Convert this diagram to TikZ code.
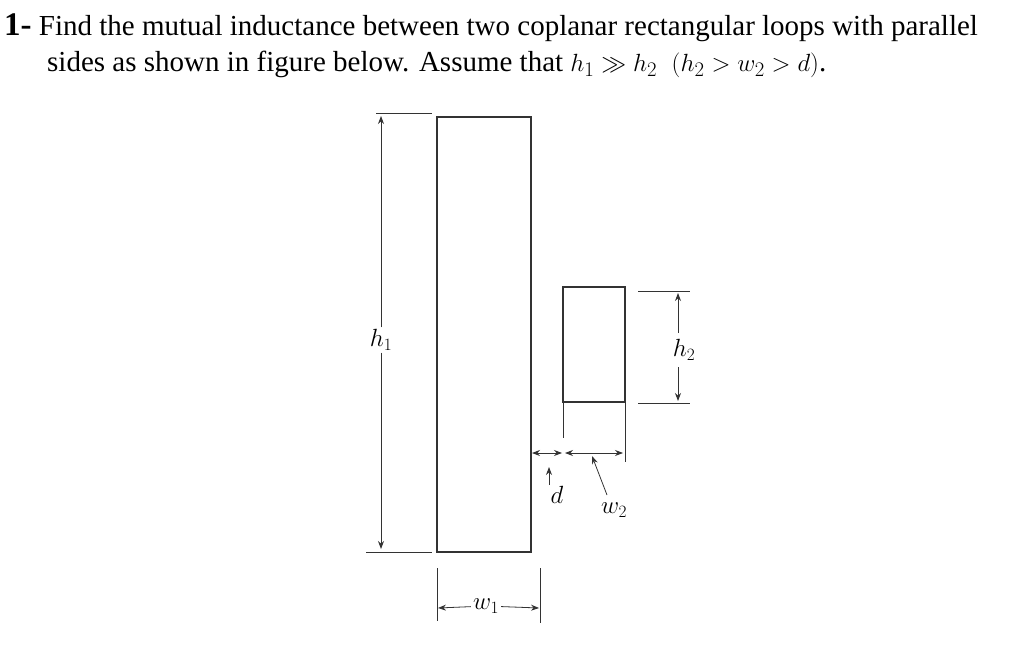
\documentclass[tikz,border=0pt]{standalone}
\usepackage{fontspec}
\setmainfont{Liberation Serif}
\usetikzlibrary{arrows.meta}
\begin{document}
\begin{tikzpicture}[x=1pt,y=-1pt,
  wire/.style={line width=1.1pt,black!80},
  thin/.style={line width=0.8pt,black!80},
  tip/.style={-{Stealth[length=8pt,width=6pt]}},
  dim/.style={line width=0.8pt,black!80,{Stealth[length=8pt,width=6pt]}-{Stealth[length=8pt,width=6pt]}},
  lab/.style={font=\fontsize{25}{25}\selectfont}]
\useasboundingbox (0,0) rectangle (1024,666);
\node[anchor=base west,inner sep=0pt,font=\fontsize{29}{29}\selectfont] (t1) at (4,36) {{\fontsize{33}{33}\selectfont\bfseries 1-} Find the mutual inductance between two coplanar rectangular loops with parallel};
\node[anchor=base west,inner sep=0pt,font=\fontsize{29}{29}\selectfont] (t2) at (47,72) {sides as shown in figure below. Assume that $h_1\gg h_2$ \ $(h_2>w_2>d)$.};
% loops
\draw[wire] (437,117) rectangle (531,552);
\draw[wire] (563,287) rectangle (625,402);
% h1
\coordinate (h1a) at (381,116); \coordinate (h1b) at (381,549);
\draw[thin] (376,113) -- (432,113);
\draw[thin] (366,552) -- (432,552);
\node[lab,fill=white,inner sep=2pt] (h1) at (381,340) {$h_1$};
\draw[thin,tip] (h1) -- (h1a);
\draw[thin,tip] (h1) -- (h1b);
% h2
\draw[thin] (638,291) -- (690,291);
\draw[thin] (638,403) -- (690,403);
\node[lab,inner sep=2pt] (h2) at (684,350) {$h_2$};
\draw[thin,tip] (678,333) -- (678,293);
\draw[thin,tip] (678,367) -- (678,401);
% d, w2
\draw[thin] (563,402) -- (563,438);
\draw[thin] (625,402) -- (625,462);
\coordinate (da) at (532,453); \coordinate (db) at (562,453);
\draw[dim] (da) -- (db);
\draw[dim] (565,453) -- (623,453);
\node[lab] (d) at (557,495) {$d$};
\draw[thin,tip] (549,485) -- (549,467);
\node[lab] (w2) at (614,510) {$w_2$};
\draw[thin,tip] (607,495) -- (592,456);
% w1
\draw[thin] (437,568) -- (437,621);
\draw[thin] (540,568) -- (540,623);
\node[lab,inner sep=2pt] (w1) at (486,606) {$w_1$};
\draw[thin,tip] (w1) -- (438,608);
\draw[thin,tip] (w1) -- (539,608);
\end{tikzpicture}
\end{document}
